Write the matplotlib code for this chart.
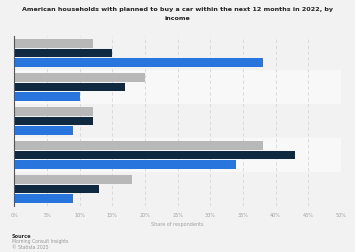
import matplotlib
matplotlib.use("Agg")
import matplotlib.pyplot as plt
import numpy as np

categories = ["Group 1", "Group 2", "Group 3", "Group 4", "Group 5"]
series_names = ["Series A", "Series B", "Series C"]
gray_vals = [12, 20, 12, 38, 18]
navy_vals = [15, 17, 12, 43, 13]
blue_vals = [38, 10, 9, 34, 9]
xticks = [0, 5, 10, 15, 20, 25, 30, 35, 40, 45, 50]
xticklabels = [f"{t}%" for t in xticks]

bg = "#f2f2f2"
fig = plt.figure(figsize=(3.55, 2.53), dpi=100, facecolor=bg)
ax = fig.add_axes([14.3/355, 1-207/253, (341-14.3)/355, (207-37)/253])
ax.set_facecolor(bg)

n = len(categories)
y = np.arange(n)
h = 0.26
off = 0.29
for i in range(n):
    if i % 2 == 1:
        ax.axhspan(i - 0.5, i + 0.5, color="#f8f8f8", zorder=0, lw=0)

ax.barh(y - off, gray_vals, height=h, color="#b8b8b8", zorder=3, label=series_names[0])
ax.barh(y, navy_vals, height=h, color="#0f2941", zorder=3, label=series_names[1])
ax.barh(y + off, blue_vals, height=h, color="#2876dd", zorder=3, label=series_names[2])

ax.set_ylim(n - 0.5, -0.5)
ax.set_xlim(0, 50)
ax.set_xticks(xticks)
ax.set_xticklabels(xticklabels, fontsize=3.5, color="#a0a0a0")
ax.set_yticks(y)
ax.set_yticklabels([])
ax.tick_params(axis="both", length=0, pad=4.5)
ax.xaxis.grid(True, linestyle=(0, (4, 3)), color="#d6d6d6", lw=0.6, zorder=1)
for s in ["top", "right", "bottom"]:
    ax.spines[s].set_visible(False)
ax.spines["left"].set_color("#555555")
ax.spines["left"].set_linewidth(0.8)
ax.spines["left"].set_zorder(4)
ax.set_xlabel("Share of respondents", fontsize=3.5, color="#a0a0a0", labelpad=3)

fig.text(0.5, 1-14/253, "American households with planned to buy a car within the next 12 months in 2022, by\nincome",
         ha="center", va="center", fontsize=4.6, color="#222222", fontweight="semibold", linespacing=2.0)
fig.text(12/355, 1-236/253, "Source", fontsize=3.6, color="#333333", fontweight="bold", va="center")
fig.text(12/355, 1-242/253, "Morning Consult Insights", fontsize=3.3, color="#999999", va="center")
fig.text(12/355, 1-248/253, "© Statista 2025", fontsize=3.3, color="#999999", va="center")

fig.savefig("out.png", dpi=100, facecolor=bg)
